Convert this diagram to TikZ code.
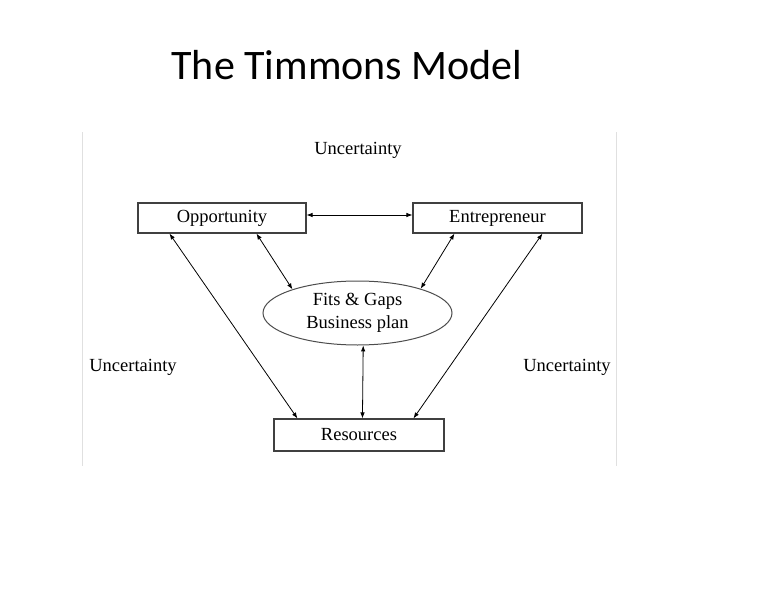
\documentclass[tikz,border=0pt]{standalone}
\usepackage{fontspec}
\setmainfont{Liberation Serif}
\newfontfamily\titlefont{Carlito}
\usetikzlibrary{arrows.meta,shapes.geometric}
\begin{document}
\begin{tikzpicture}[x=1pt,y=-1pt,
  box/.style={draw=black!75,line width=1.1pt,minimum height=30pt,inner sep=0pt,font=\fontsize{18.5}{22}\selectfont},
  lbl/.style={font=\fontsize{18.5}{22}\selectfont,inner sep=0pt},
  link/.style={line width=0.8pt,{Latex[length=6pt,width=4.5pt]}-{Latex[length=6pt,width=4.5pt]}},
  frame/.style={draw=black!12,line width=0.8pt}]
\useasboundingbox (0,0) rectangle (768,594);
\node[font=\titlefont\fontsize{42}{48}\selectfont,anchor=base,inner sep=0pt] (title) at (347,79) {The Timmons Model};
\coordinate (fl1) at (82.5,132); \coordinate (fl2) at (82.5,466);
\coordinate (fr1) at (616.5,132); \coordinate (fr2) at (616.5,466);
\draw[frame] (fl1) -- (fl2);
\draw[frame] (fr1) -- (fr2);
\node[box,minimum width=168pt] (opp) at (222,218) {Opportunity};
\node[box,minimum width=169pt] (ent) at (497.5,218) {Entrepreneur};
\node[box,minimum width=170pt,minimum height=32pt] (res) at (359,435) {Resources};
\node[draw=black!70,line width=1pt,ellipse,minimum width=189pt,minimum height=64pt,inner sep=0pt,align=center,font=\fontsize{18.5}{23}\selectfont] (fit) at (357.5,313) {Fits \& Gaps\\Business plan};
\node[lbl] (u1) at (358,150) {Uncertainty};
\node[lbl] (u2) at (133,367) {Uncertainty};
\node[lbl] (u3) at (567,367) {Uncertainty};
\draw[link] ([yshift=3pt]opp.east) -- ([yshift=3pt]ent.west);
\draw[link] ([xshift=32pt]opp.south west) -- ([xshift=24pt]res.north west);
\draw[link] ([xshift=119pt]opp.south west) -- (fit.160);
\draw[link] ([xshift=42pt]ent.south west) -- (fit.21);
\draw[link] ([xshift=130pt]ent.south west) -- ([xshift=140pt]res.north west);
\draw[link] (fit.-80) -- ([xshift=89pt]res.north west);
\end{tikzpicture}
\end{document}
